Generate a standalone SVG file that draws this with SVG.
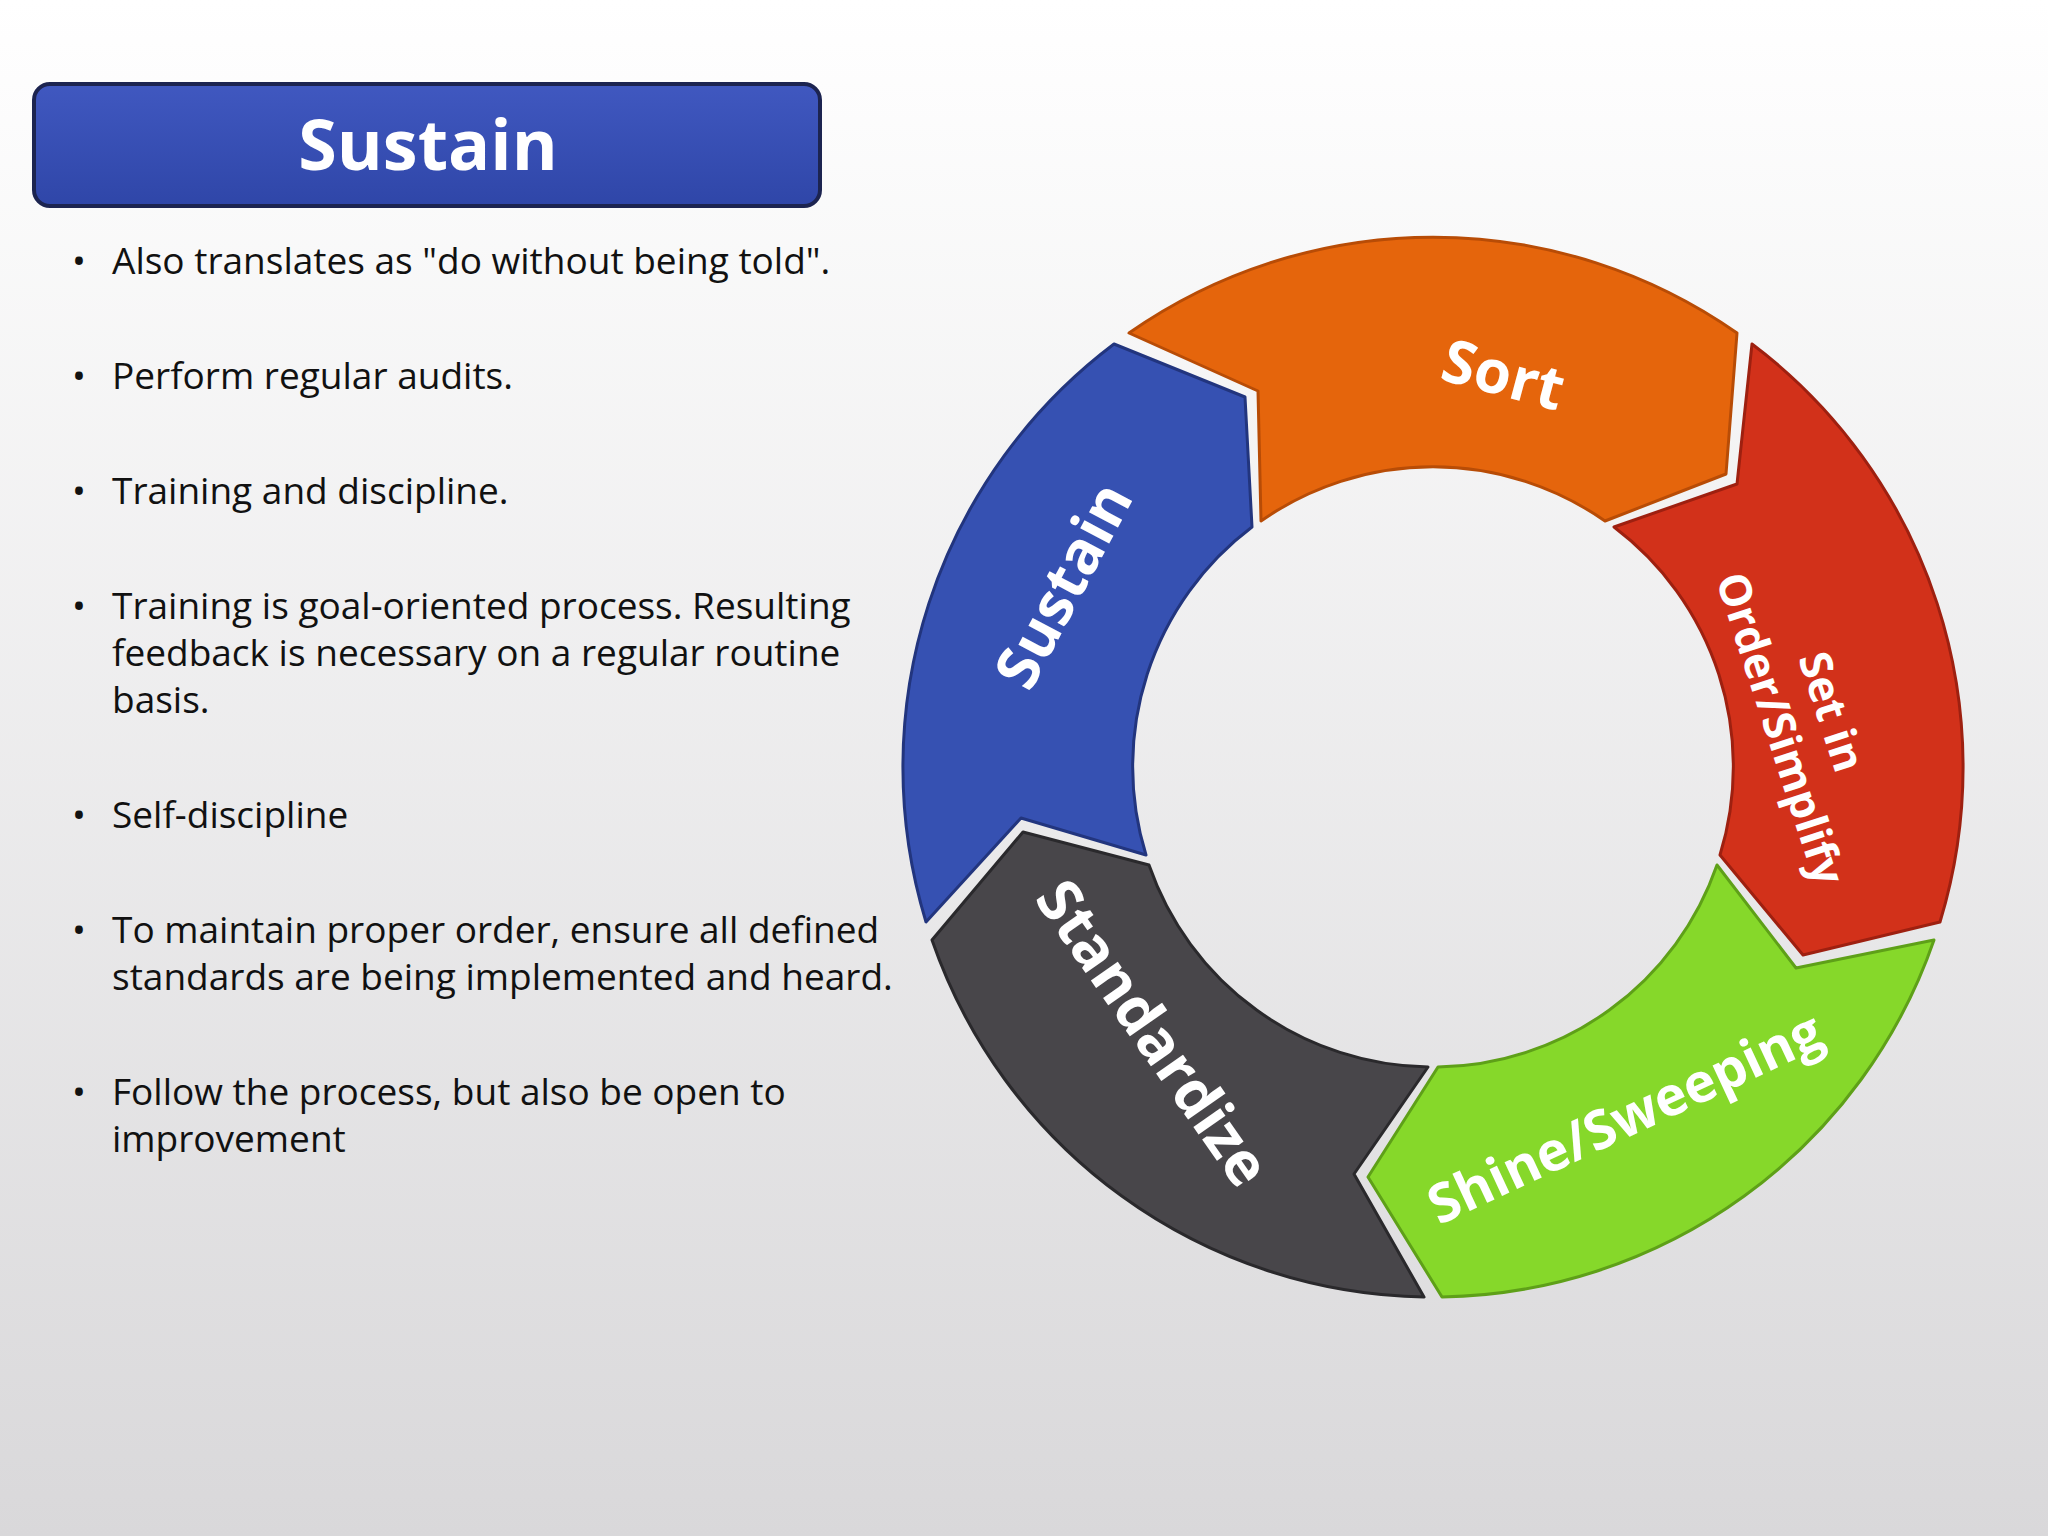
<svg xmlns="http://www.w3.org/2000/svg" width="2048" height="1536" viewBox="0 0 2048 1536">
<defs>
<linearGradient id="bg" x1="0" y1="0" x2="0" y2="1"><stop offset="0" stop-color="#ffffff"/><stop offset="1" stop-color="#d9d8da"/></linearGradient>
<linearGradient id="tb" x1="0" y1="0" x2="0" y2="1"><stop offset="0" stop-color="#4058c0"/><stop offset="1" stop-color="#2f46a8"/></linearGradient>
</defs>
<style>
.b{font-family:"Open Sans","Noto Sans",sans-serif;font-size:37px;fill:#111}
.l{font-family:"Open Sans","Noto Sans",sans-serif;font-weight:bold;fill:#fff;text-anchor:middle}
.s{stroke-width:3;stroke-linejoin:round}
</style>
<rect width="2048" height="1536" fill="url(#bg)"/>
<g id="title"><rect x="34" y="84" width="786" height="122" rx="16" fill="url(#tb)" stroke="#1c2450" stroke-width="4"/>
<text x="428" y="170" class="l" font-size="70">Sustain</text></g>
<g id="bullets">
<g class="b"><text x="72" y="274">•</text><text x="112" y="274">Also translates as "do without being told".</text>
<text x="72" y="389">•</text><text x="112" y="389">Perform regular audits.</text>
<text x="72" y="504">•</text><text x="112" y="504">Training and discipline.</text>
<text x="72" y="619">•</text><text x="112" y="619">Training is goal-oriented process. Resulting</text><text x="112" y="666">feedback is necessary on a regular routine</text><text x="112" y="713">basis.</text>
<text x="72" y="828">•</text><text x="112" y="828">Self-discipline</text>
<text x="72" y="943">•</text><text x="112" y="943">To maintain proper order, ensure all defined</text><text x="112" y="990">standards are being implemented and heard.</text>
<text x="72" y="1105">•</text><text x="112" y="1105">Follow the process, but also be open to</text><text x="112" y="1152">improvement</text></g>
</g>
<g id="sort"><path class="s" d="M1129 333 A530 530 0 0 1 1737 333 L1726 474 L1605 521 A300 300 0 0 0 1261 521 L1258 391 Z" fill="#e5650c" stroke="#b84c06"/>
<text class="l" font-size="60" transform="translate(1498 395) rotate(15)">Sort</text></g>
<g id="setinorder"><path class="s" d="M1752 344 A530 530 0 0 1 1940 922 L1803 955 L1720 855 A300 300 0 0 0 1614 527 L1737 484 Z" fill="#d2311a" stroke="#9e2010"/>
<text class="l" font-size="44" transform="translate(1800 722) rotate(72)"><tspan x="0" y="-18">Set in</tspan><tspan x="0" y="36">Order/Simplify</tspan></text></g>
<g id="shine"><path class="s" d="M1934 940 A530 530 0 0 1 1442 1297 L1368 1177 L1438 1067 A300 300 0 0 0 1717 865 L1796 968 Z" fill="#86d82a" stroke="#5ea018"/>
<text class="l" font-size="54" transform="translate(1633 1135) rotate(-25)">Shine/Sweeping</text></g>
<g id="standardize"><path class="s" d="M1424 1297 A530 530 0 0 1 932 940 L1023 832 L1149 865 A300 300 0 0 0 1428 1067 L1354 1174 Z" fill="#48464a" stroke="#2a292c"/>
<text class="l" font-size="60" transform="translate(1136 1045) rotate(55)">Standardize</text></g>
<g id="sustain"><path class="s" d="M926 922 A530 530 0 0 1 1114 344 L1245 397 L1252 527 A300 300 0 0 0 1146 855 L1021 818 Z" fill="#3651b2" stroke="#22357e"/>
<text class="l" font-size="60" transform="translate(1082 595) rotate(-62)">Sustain</text></g>
<g id="connectors"/>
</svg>
